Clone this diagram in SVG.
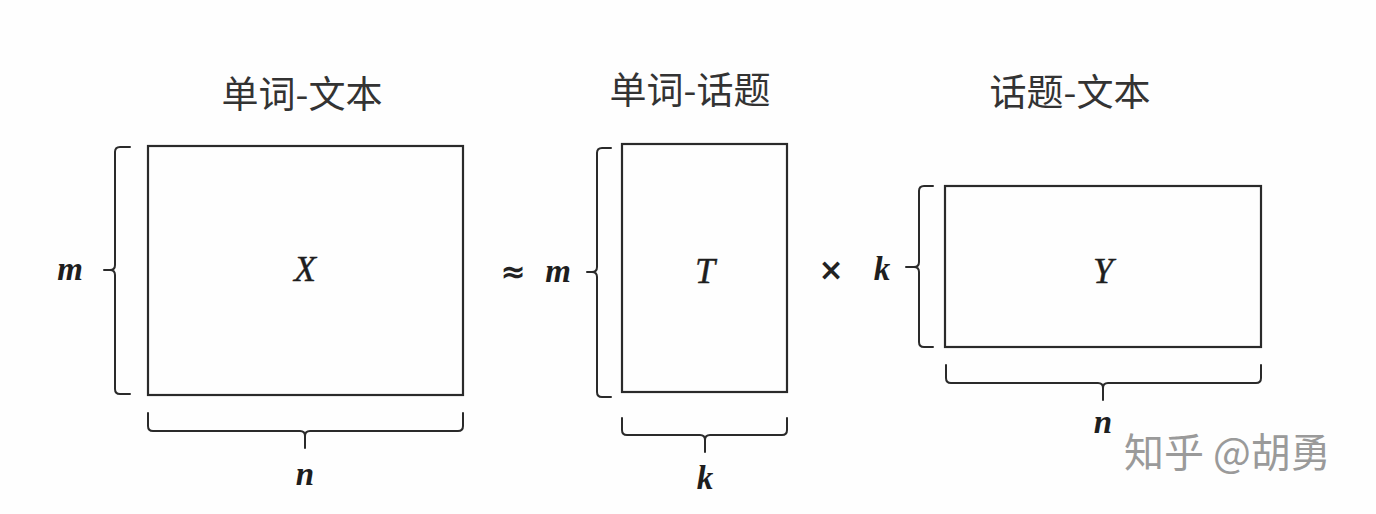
<svg xmlns="http://www.w3.org/2000/svg" width="1376" height="514" viewBox="0 0 1376 514">
<style>
.box{fill:none;stroke:#2a2a2a;stroke-width:2.2}
.br{fill:none;stroke:#2a2a2a;stroke-width:2;stroke-linecap:round;stroke-linejoin:round}
.title{font-family:"Noto Sans CJK SC","Noto Sans CJK JP",sans-serif;font-size:37px;fill:#333;text-anchor:middle}
.math{font-family:"Liberation Serif","DejaVu Serif",serif;font-style:italic;font-size:36px;fill:#1e1e1e;text-anchor:middle;stroke:#1e1e1e;stroke-width:0.4}
.dim{font-family:"Liberation Serif","DejaVu Serif",serif;font-style:italic;font-weight:bold;font-size:33px;fill:#1e1e1e;text-anchor:middle}
.op{font-family:"DejaVu Sans","Liberation Sans",sans-serif;font-size:30px;font-weight:bold;fill:#222;text-anchor:middle}
.wm{font-family:"Noto Sans CJK SC",sans-serif;font-size:40px;fill:#9a9a9a;text-anchor:start}
</style>
<rect width="1376" height="514" fill="#fefefe"/>
<g id="node-X">
<text class="title" x="302" y="108">单词-文本</text>
<rect class="box" x="148" y="146" width="315" height="249"/>
<text class="math" x="305" y="281">X</text>
</g>
<g id="node-T">
<text class="title" x="690" y="104">单词-话题</text>
<rect class="box" x="622" y="144" width="165" height="248"/>
<text class="math" x="705" y="283">T</text>
</g>
<g id="node-Y">
<text class="title" x="1070" y="106">话题-文本</text>
<rect class="box" x="945" y="186" width="316" height="161"/>
<text class="math" x="1103" y="283">Y</text>
</g>
<g id="connectors">
<path class="br" d="M130 147 L120 147 Q115 147 115 152 L115 265 Q115 270 110 270 L104 270 M110 270 Q115 270 115 275 L115 389 Q115 394 120 394 L130 394"/>
<path class="br" d="M148 413 L148 426 Q148 431 153 431 L300 431 Q305 431 305 436 L305 448 M305 436 Q305 431 310 431 L458 431 Q463 431 463 426 L463 413"/>
<path class="br" d="M611 148 L602 148 Q597 148 597 153 L597 267 Q597 272 592 272 L587 272 M592 272 Q597 272 597 277 L597 392 Q597 397 602 397 L611 397"/>
<path class="br" d="M622 418 L622 430 Q622 435 627 435 L700 435 Q705 435 705 440 L705 452 M705 440 Q705 435 710 435 L782 435 Q787 435 787 430 L787 418"/>
<path class="br" d="M933 186 L924 186 Q919 186 919 191 L919 262 Q919 267 914 267 L906 267 M914 267 Q919 267 919 272 L919 342 Q919 347 924 347 L933 347"/>
<path class="br" d="M946 365 L946 378 Q946 383 951 383 L1098 383 Q1103 383 1103 388 L1103 400 M1103 388 Q1103 383 1108 383 L1256 383 Q1261 383 1261 378 L1261 365"/>
</g>
<text class="dim" x="70" y="280">m</text>
<text class="dim" x="305" y="485">n</text>
<text class="op" x="513" y="282">≈</text>
<text class="dim" x="558" y="282">m</text>
<text class="dim" x="705" y="489">k</text>
<text class="op" x="831" y="280">×</text>
<text class="dim" x="882" y="280">k</text>
<text class="dim" x="1103" y="433">n</text>
<text class="wm" x="1124" y="467">知乎 @胡勇</text>
</svg>
